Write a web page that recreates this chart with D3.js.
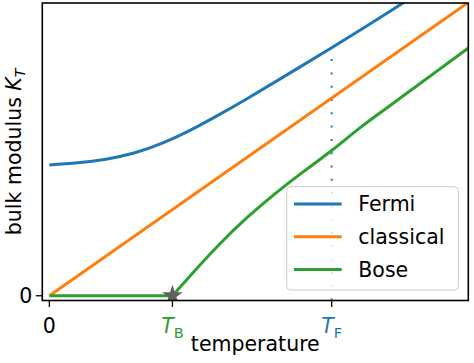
<!DOCTYPE html>
<html>
<head>
<meta charset="utf-8">
<script src="https://cdn.jsdelivr.net/npm/d3@7"></script>
<style>
  body { margin: 0; background: #fff; }
  svg text { font-family: "DejaVu Sans", sans-serif; }
</style>
</head>
<body>
<div class="wrapper"></div>
<script>
// values, temperature in units of T_F, K in units of n k T_F
var tempB = 0.436, tempF = 1.0;

var classicalT = [0, 1.5];
var classicalK = [0, 1.5];

var fermiT = [0, 0.1, 0.2, 0.3, 0.4, 0.5, 0.6, 0.7, 0.8, 0.9, 1.0, 1.1, 1.2, 1.3, 1.4, 1.5];
var fermiK = [0.662, 0.673, 0.691, 0.722, 0.772, 0.838, 0.915, 0.997, 1.082, 1.168, 1.255, 1.343, 1.433, 1.525, 1.618, 1.712];

// flat (condensed) part first, then the normal phase above T_B
var boseT = [0, 0.436, 0.5, 0.6, 0.7, 0.8, 0.9, 1.0, 1.1, 1.2, 1.3, 1.4, 1.5];
var boseK = [0, 0, 0.103, 0.257, 0.395, 0.517, 0.628, 0.735, 0.849, 0.955, 1.060, 1.165, 1.270];

var series = [
  { name: "Fermi", color: "#1f77b4", t: fermiT, k: fermiK },
  { name: "classical", color: "#ff7f0e", t: classicalT, k: classicalK },
  { name: "Bose", color: "#2ca02c", t: boseT, k: boseK }
];

var width = 474, height = 363;
var axLeft = 42.3, axRight = 468.3, axTop = 3, axBottom = 300.5;

var x = d3.scaleLinear().domain([-0.025, 1.484]).range([axLeft, axRight]);
var y = d3.scaleLinear().domain([-0.024, 1.481]).range([axBottom, axTop]);

var svg = d3.select(".wrapper").append("svg")
  .attr("width", width)
  .attr("height", height);

svg.append("clipPath").attr("id", "plotclip")
  .append("rect")
  .attr("x", axLeft).attr("y", axTop)
  .attr("width", axRight - axLeft).attr("height", axBottom - axTop);

var plot = svg.append("g").attr("clip-path", "url(#plotclip)");

// dotted marker at T_F
plot.append("line")
  .attr("x1", x(tempF)).attr("x2", x(tempF))
  .attr("y1", axBottom).attr("y2", y(1.2))
  .attr("stroke", "#1f77b4")
  .attr("stroke-width", 2)
  .attr("stroke-dasharray", "2 11.3");

var line = d3.line()
  .x(d => x(d[0]))
  .y(d => y(d[1]))
  .curve(d3.curveNatural);

series.forEach(s => {
  var pts = d3.zip(s.t, s.k);
  // Bose has a kink at T_B, draw the two parts separately
  var parts = s.name === "Bose" ? [pts.slice(0, 2), pts.slice(1)] : [pts];
  parts.forEach(p => {
    plot.append("path")
      .datum(p)
      .attr("d", line)
      .attr("fill", "none")
      .attr("stroke", s.color)
      .attr("stroke-width", 3);
  });
});

// star at the Bose condensation point
plot.append("path")
  .attr("d", d3.symbol().type(d3.symbolStar).size(135))
  .attr("transform", "translate(" + x(tempB) + "," + y(0) + ")")
  .attr("fill", "#606060");

/*----------------------------- legend -----------------------------*/
var legend = svg.append("g");
legend.append("rect")
  .attr("x", 286.7).attr("y", 186.7)
  .attr("width", 171.6).attr("height", 103.3)
  .attr("rx", 4)
  .attr("fill", "white").attr("fill-opacity", 0.8)
  .attr("stroke", "#cccccc").attr("stroke-width", 1);

var item = legend.selectAll("g.item")
  .data(series)
  .join("g")
  .attr("class", "item")
  .attr("transform", (d, i) => "translate(0," + (204 + i * 32.7) + ")");

item.append("line")
  .attr("x1", 294).attr("x2", 341.7)
  .attr("stroke", d => d.color)
  .attr("stroke-width", 3);

item.append("text")
  .attr("x", 358.3)
  .attr("dy", "0.36em")
  .style("font-size", "20.5px")
  .text(d => d.name);

/*----------------------------- axes -----------------------------*/
svg.append("rect")
  .attr("x", axLeft).attr("y", axTop)
  .attr("width", axRight - axLeft).attr("height", axBottom - axTop)
  .attr("fill", "none")
  .attr("stroke", "black")
  .attr("stroke-width", 1.6);

var xTicks = [
  { v: 0, label: "0", color: "black" },
  { v: tempB, label: "T", sub: "B", color: "#2ca02c" },
  { v: tempF, label: "T", sub: "F", color: "#1f77b4" }
];

var xt = svg.selectAll("g.xtick")
  .data(xTicks)
  .join("g")
  .attr("class", "xtick")
  .attr("transform", d => "translate(" + x(d.v) + ",0)");

xt.append("line")
  .attr("y1", axBottom).attr("y2", axBottom + 6.5)
  .attr("stroke", "black").attr("stroke-width", 1.3);

var xtText = xt.append("text")
  .attr("y", 333.3)
  .attr("text-anchor", "middle")
  .style("font-size", "20.5px")
  .attr("fill", d => d.color);
xtText.append("tspan")
  .style("font-style", d => d.sub ? "italic" : "normal")
  .text(d => d.label);
xtText.filter(d => d.sub).append("tspan")
  .attr("dy", 5)
  .style("font-size", "14.5px")
  .text(d => d.sub);

// y tick
svg.append("line")
  .attr("x1", axLeft - 6.5).attr("x2", axLeft)
  .attr("y1", y(0)).attr("y2", y(0))
  .attr("stroke", "black").attr("stroke-width", 1.3);
svg.append("text")
  .attr("x", axLeft - 10).attr("y", y(0))
  .attr("dy", "0.36em")
  .attr("text-anchor", "end")
  .style("font-size", "20.5px")
  .text("0");

svg.append("text")
  .attr("x", (axLeft + axRight) / 2).attr("y", 351)
  .attr("text-anchor", "middle")
  .style("font-size", "20.5px")
  .text("temperature");

var ylab = svg.append("text")
  .attr("transform", "translate(20.5," + (axTop + axBottom) / 2 + ") rotate(-90)")
  .attr("text-anchor", "middle")
  .style("font-size", "20.5px");
ylab.append("tspan").text("bulk modulus ");
ylab.append("tspan").style("font-style", "italic").text("K");
ylab.append("tspan").style("font-style", "italic").style("font-size", "14.5px").attr("dy", 4).text("T");
</script>
</body>
</html>
